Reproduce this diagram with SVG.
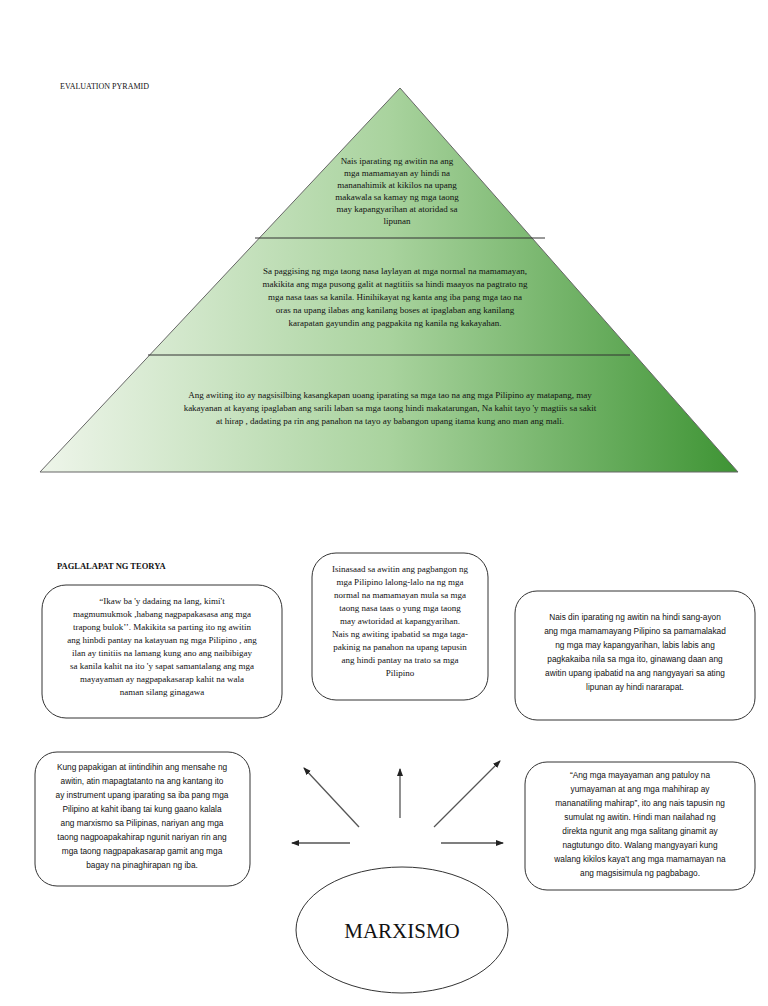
<svg xmlns="http://www.w3.org/2000/svg" width="768" height="1006" viewBox="0 0 768 1006">
<style>
.s{font-family:"Liberation Serif",serif;font-size:9px;fill:#111;text-anchor:middle}
.c{font-family:"Liberation Sans",sans-serif;font-size:8.3px;fill:#111;text-anchor:middle}
.h{font-family:"Liberation Serif",serif;font-size:8.5px;fill:#111;font-weight:bold}
.box{fill:#fff;stroke:#333;stroke-width:1}
.ar{stroke:#555;stroke-width:1.3;fill:none;marker-end:url(#ah)}
</style>
<defs>
<linearGradient id="g" x1="40" y1="0" x2="738" y2="0" gradientUnits="userSpaceOnUse">
<stop offset="0" stop-color="#eef5ea"/><stop offset="0.5" stop-color="#a9d39e"/><stop offset="1" stop-color="#3e9434"/>
</linearGradient>
<marker id="ah" markerWidth="8" markerHeight="8" refX="7" refY="4" orient="auto" markerUnits="userSpaceOnUse"><path d="M0,1 L8,4 L0,7 Z" fill="#222"/></marker>
</defs>
<rect width="768" height="1006" fill="#fff"/>
<text x="60" y="89" class="h" style="font-weight:normal;font-size:8px">EVALUATION PYRAMID</text>
<g id="pyramid">
<polygon points="400,88 738,472 40,472" fill="url(#g)" stroke="#666" stroke-width="1"/>
<line x1="255" y1="238" x2="545" y2="238" stroke="#333"/>
<line x1="148" y1="355" x2="630" y2="355" stroke="#333"/>
<text class="s"><tspan x="397" y="164">Nais iparating ng awitin na ang</tspan><tspan x="397" y="176">mga mamamayan ay hindi na</tspan><tspan x="397" y="188">mananahimik at kikilos na upang</tspan><tspan x="397" y="200">makawala sa kamay ng mga taong</tspan><tspan x="397" y="212">may kapangyarihan at atoridad sa</tspan><tspan x="397" y="224">lipunan</tspan></text>
<text class="s"><tspan x="395" y="274">Sa paggising ng mga taong nasa laylayan at mga normal na mamamayan,</tspan><tspan x="395" y="287">makikita ang mga pusong galit at nagtitiis sa hindi maayos na pagtrato ng</tspan><tspan x="395" y="300">mga nasa taas sa kanila. Hinihikayat ng kanta ang iba pang mga tao na</tspan><tspan x="395" y="313">oras na upang ilabas ang kanilang boses at ipaglaban ang kanilang</tspan><tspan x="395" y="326">karapatan gayundin ang pagpakita ng kanila ng kakayahan.</tspan></text>
<text class="s"><tspan x="390" y="398">Ang awiting ito ay nagsisilbing kasangkapan uoang iparating sa mga tao na ang mga Pilipino ay matapang, may</tspan><tspan x="390" y="411">kakayanan at kayang ipaglaban ang sarili laban sa mga taong hindi makatarungan, Na kahit tayo 'y magtiis sa sakit</tspan><tspan x="390" y="424">at hirap , dadating pa rin ang panahon na tayo ay babangon upang itama kung ano man ang mali.</tspan></text>
</g>
<text x="57" y="569" class="h">PAGLALAPAT NG TEORYA</text>
<g id="box1">
<rect x="42" y="585" width="240" height="133" rx="24" class="box"/>
<text class="s"><tspan x="162" y="604">“Ikaw ba 'y dadaing na lang, kimi't</tspan><tspan x="162" y="617">magmumukmok ,habang nagpapakasasa ang mga</tspan><tspan x="162" y="630">trapong bulok’’. Makikita sa parting ito ng awitin</tspan><tspan x="162" y="643">ang hinbdi pantay na katayuan ng mga Pilipino , ang</tspan><tspan x="162" y="656">ilan ay tinitiis na lamang kung ano ang naibibigay</tspan><tspan x="162" y="669">sa kanila kahit na ito 'y sapat samantalang ang mga</tspan><tspan x="162" y="682">mayayaman ay nagpapakasarap kahit na wala</tspan><tspan x="162" y="695">naman silang ginagawa</tspan></text>
</g>
<g id="box2">
<rect x="312" y="553" width="176" height="147" rx="24" class="box"/>
<text class="s"><tspan x="400" y="572">Isinasaad sa awitin ang pagbangon ng</tspan><tspan x="400" y="585">mga Pilipino lalong-lalo na ng mga</tspan><tspan x="400" y="598">normal na mamamayan mula sa mga</tspan><tspan x="400" y="611">taong nasa taas o yung mga taong</tspan><tspan x="400" y="624">may awtoridad at kapangyarihan.</tspan><tspan x="400" y="637">Nais ng awiting ipabatid sa mga taga-</tspan><tspan x="400" y="650">pakinig na panahon na upang tapusin</tspan><tspan x="400" y="663">ang hindi pantay na trato sa mga</tspan><tspan x="400" y="676">Pilipino</tspan></text>
</g>
<g id="box3">
<rect x="515" y="591" width="240" height="129" rx="22" class="box"/>
<text class="c"><tspan x="635" y="620">Nais din iparating ng awitin na hindi sang-ayon</tspan><tspan x="635" y="634">ang mga mamamayang Pilipino sa pamamalakad</tspan><tspan x="635" y="648">ng mga may kapangyarihan, labis labis ang</tspan><tspan x="635" y="662">pagkakaiba nila sa mga ito, ginawang daan ang</tspan><tspan x="635" y="676">awitin upang ipabatid na ang nangyayari sa ating</tspan><tspan x="635" y="690">lipunan ay hindi nararapat.</tspan></text>
</g>
<g id="box4">
<rect x="35" y="752" width="215" height="134" rx="22" class="box"/>
<text class="c"><tspan x="142" y="770">Kung papakigan at iintindihin ang mensahe ng</tspan><tspan x="142" y="784">awitin, atin mapagtatanto na ang kantang ito</tspan><tspan x="142" y="798">ay instrument upang iparating sa iba pang mga</tspan><tspan x="142" y="812">Pilipino at kahit ibang tai kung gaano kalala</tspan><tspan x="142" y="826">ang marxismo sa Pilipinas, nariyan ang mga</tspan><tspan x="142" y="840">taong nagpoapakahirap ngunit nariyan rin ang</tspan><tspan x="142" y="854">mga taong nagpapakasarap gamit ang mga</tspan><tspan x="142" y="868">bagay na pinaghirapan ng iba.</tspan></text>
</g>
<g id="box5">
<rect x="525" y="762" width="230" height="128" rx="22" class="box"/>
<text class="c"><tspan x="640" y="778">“Ang mga mayayaman ang patuloy na</tspan><tspan x="640" y="792">yumayaman at ang mga mahihirap ay</tspan><tspan x="640" y="806">mananatiling mahirap”, ito ang nais tapusin ng</tspan><tspan x="640" y="820">sumulat ng awitin. Hindi man nailahad ng</tspan><tspan x="640" y="834">direkta ngunit ang mga salitang ginamit ay</tspan><tspan x="640" y="848">nagtutungo dito. Walang mangyayari kung</tspan><tspan x="640" y="862">walang kikilos kaya't ang mga mamamayan na</tspan><tspan x="640" y="876">ang magsisimula ng pagbabago.</tspan></text>
</g>
<g id="marxismo">
<ellipse cx="402" cy="930" rx="106" ry="63" fill="#fff" stroke="#333"/>
<text x="402" y="938" style="font-family:'Liberation Serif',serif;font-size:21px;text-anchor:middle;fill:#111">MARXISMO</text>
</g>
<g id="connectors">
<line x1="359" y1="827" x2="304" y2="768" class="ar"/>
<line x1="400" y1="818" x2="400" y2="769" class="ar"/>
<line x1="434" y1="827" x2="500" y2="761" class="ar"/>
<line x1="350" y1="843" x2="292" y2="843" class="ar"/>
<line x1="441" y1="843" x2="503" y2="843" class="ar"/>
</g>
</svg>
